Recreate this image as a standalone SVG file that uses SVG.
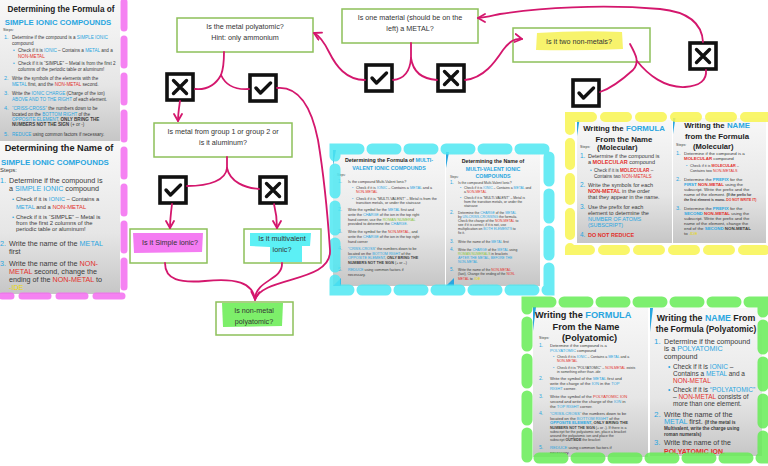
<svg xmlns="http://www.w3.org/2000/svg" width="768" height="466" viewBox="0 0 768 466">
<defs>
<linearGradient id="sg" x1="0" y1="0" x2="0" y2="1">
<stop offset="0" stop-color="#f8f8f8"/><stop offset="0.6" stop-color="#e6e6e6"/><stop offset="1" stop-color="#c6c6c6"/>
</linearGradient>
<marker id="ah" markerUnits="userSpaceOnUse" markerWidth="12" markerHeight="12" refX="8" refY="5" orient="auto">
<path d="M1,1 L8,5 L1,9" fill="none" stroke="#d4176d" stroke-width="1.8" stroke-linecap="round" stroke-linejoin="round"/>
</marker>
<g id="chk"><rect x="-13" y="-13" width="26" height="26" fill="#fff" stroke="#111" stroke-width="3.6"/><path d="M-7,0 L-2.5,5 L7.5,-5" fill="none" stroke="#111" stroke-width="3.4" stroke-linecap="round" stroke-linejoin="round"/></g>
<g id="crs"><rect x="-13" y="-13" width="26" height="26" fill="#fff" stroke="#111" stroke-width="3.6"/><path d="M-6.5,-6.5 L6.5,6.5 M6.5,-6.5 L-6.5,6.5" fill="none" stroke="#111" stroke-width="3.4" stroke-linecap="round"/></g>
</defs>
<style>
.t{font-family:"Liberation Sans",Arial,sans-serif;fill:#3a3a3a}
.h{font-weight:bold;fill:#222}
.b{fill:#2aa6e0}
.r{fill:#e2302b}
.y{fill:#e8d800}
.g{fill:#86c441}
.k{font-weight:bold}
.q{font-family:"Liberation Sans",Arial,sans-serif;font-size:7.2px;fill:#333;text-anchor:middle}
.box{fill:#fff;stroke:#8dc05a;stroke-width:1.5}
.c{fill:none;stroke:#d4176d;stroke-width:1.8;stroke-linecap:round}
.sh{fill:url(#sg)}
.acc{fill:#2aa6e0}
.dash{fill:none;stroke-linecap:round;opacity:0.85}
</style>
<rect width="768" height="466" fill="#fff"/>

<!-- Left pink panel -->
<g id="panel-simple-ionic">
<rect class="sh" x="0" y="0" width="120" height="141"/>
<rect class="sh" x="0" y="141" width="120" height="153"/>
<text class="t h" x="61" y="12" font-size="8.2" text-anchor="middle">Determining the Formula of</text>
<text class="t h b" x="58" y="24.5" font-size="7.8" text-anchor="middle">SIMPLE IONIC COMPOUNDS</text>
<g class="t" font-size="4.6">
<text x="3" y="31" font-size="3.8">Steps:</text>
<text x="4" y="39" class="b" font-size="5.5">1.</text>
<text x="12" y="39">Determine if the compound is a <tspan class="b">SIMPLE IONIC</tspan></text>
<text x="12" y="45">compound</text>
<text x="13" y="52" class="b">•</text><text x="18" y="52">Check if it is <tspan class="b">IONIC</tspan> – Contains a <tspan class="b">METAL</tspan> and a</text>
<text x="18" y="58" class="r">NON-METAL</text>
<text x="13" y="65" class="b">•</text><text x="18" y="65">Check if it is “SIMPLE” – Metal is from the first 2</text>
<text x="18" y="71">columns of the periodic table or aluminum!</text>
<text x="4" y="80" class="b" font-size="5.5">2.</text>
<text x="12" y="80">Write the symbols of the elements with the</text>
<text x="12" y="86"><tspan class="b">METAL</tspan> first, and the <tspan class="r">NON-METAL</tspan> second.</text>
<text x="4" y="95" class="b" font-size="5.5">3.</text>
<text x="12" y="95">Write the <tspan class="b">IONIC CHARGE</tspan> (Charge of the ion)</text>
<text x="12" y="101"><tspan class="b">ABOVE AND TO THE RIGHT</tspan> of each element.</text>
<text x="4" y="110" class="b" font-size="5.5">4.</text>
<text x="12" y="110"><tspan class="b">“CRISS-CROSS”</tspan> the numbers down to be</text>
<text x="12" y="116">located on the <tspan class="b">BOTTOM RIGHT</tspan> of the</text>
<text x="12" y="121"><tspan class="b">OPPOSITE ELEMENT</tspan>, <tspan class="k">ONLY BRING THE</tspan></text>
<text x="12" y="126"><tspan class="k">NUMBERS NOT THE SIGN</tspan> (+ or -)</text>
<text x="4" y="136" class="b" font-size="5.5">5.</text>
<text x="12" y="136"><tspan class="b">REDUCE</tspan> using common factors if necessary.</text>
</g>
<text class="t h" x="59" y="151" font-size="9.2" text-anchor="middle">Determining the Name of</text>
<text class="t h b" x="1" y="165" font-size="7.9">SIMPLE IONIC COMPOUNDS</text>
<g class="t" font-size="7.2">
<text x="0" y="172" font-size="6">Steps:</text>
<text x="0" y="183" class="b">1.</text>
<text x="9" y="183">Determine if the compound is</text>
<text x="9" y="191">a <tspan class="b">SIMPLE IONIC</tspan> compound</text>
<g font-size="5.8">
<text x="12" y="201" class="b">•</text><text x="16" y="201">Check if it is <tspan class="b">IONIC</tspan> – Contains a</text>
<text x="16" y="209"><tspan class="b">METAL</tspan> and a <tspan class="r">NON-METAL</tspan></text>
<text x="12" y="219" class="b">•</text><text x="16" y="219">Check if it is “SIMPLE” – Metal is</text>
<text x="16" y="225">from the first 2 columns of the</text>
<text x="16" y="231">periodic table or aluminum!</text>
</g>
<text x="0" y="246" class="b">2.</text>
<text x="9" y="246">Write the name of the <tspan class="b">METAL</tspan></text>
<text x="9" y="254">first</text>
<text x="0" y="266" class="b">3.</text>
<text x="9" y="266">Write the name of the <tspan class="r">NON-</tspan></text>
<text x="9" y="274"><tspan class="r">METAL</tspan> second, change the</text>
<text x="9" y="282">ending of the <tspan class="r">NON-METAL</tspan> to</text>
<text x="9" y="290" class="y">-IDE</text>
</g>
<path class="dash" d="M124,2 V296 H2" stroke="#f36cf0" stroke-width="7" stroke-dasharray="26 11"/>
</g>

<!-- Cyan multivalent panel -->
<g id="panel-multivalent">
<rect class="sh" x="333" y="150" width="112" height="136"/>
<rect class="sh" x="446" y="152" width="94" height="134"/>
<path class="acc" d="M333,150 h3 l-3,16 z M446,152 h3 l-3,16 z M333,286 l8,-8 v8 z M446,286 l8,-8 v8 z"/>
<g class="t">
<text class="h" x="389" y="162" font-size="5.3" text-anchor="middle">Determining the Formula of <tspan class="b">MULTI-</tspan></text>
<text class="h b" x="389" y="169.5" font-size="5.3" text-anchor="middle">VALENT IONIC COMPOUNDS</text>
<text x="337" y="176" font-size="3">Steps:</text>
<g font-size="3.7">
<text x="338" y="183" class="b" font-size="4.8">1.</text><text x="348" y="183">Is the compound Multi-Valent Ionic?</text>
<text x="352" y="189" class="b">•</text><text x="356" y="189">Check if it is <tspan class="b">IONIC</tspan> – Contains a <tspan class="b">METAL</tspan> and a</text>
<text x="356" y="193" class="r">NON-METAL</text>
<text x="352" y="200" class="b">•</text><text x="356" y="200">Check if it is “MULTI-VALENT” – Metal is from the</text>
<text x="356" y="204">transition metals, or under the staircase</text>
<text x="338" y="211" class="b" font-size="4.8">2.</text><text x="348" y="211">Write the symbol for the <tspan class="b">METAL</tspan> first and</text>
<text x="348" y="216">write the <tspan class="b">CHARGE</tspan> of the ion in the top right</text>
<text x="348" y="220.5">hand corner, use the <tspan class="g">ROMAN NUMERAL</tspan></text>
<text x="348" y="225">provided to determine the <tspan class="b">CHARGE.</tspan></text>
<text x="338" y="233" class="b" font-size="4.8">3.</text><text x="348" y="233">Write the symbol for the <tspan class="r">NON-METAL</tspan>, and</text>
<text x="348" y="238">write the <tspan class="b">CHARGE</tspan> of the ion in the top right</text>
<text x="348" y="243">hand corner</text>
<text x="338" y="250" class="b" font-size="4.8">4.</text><text x="348" y="250"><tspan class="b">“CRISS-CROSS”</tspan> the numbers down to be</text>
<text x="348" y="254.5">located on the <tspan class="b">BOTTOM RIGHT</tspan> of the</text>
<text x="348" y="259"><tspan class="b">OPPOSITE ELEMENT</tspan>, <tspan class="k">ONLY BRING THE</tspan></text>
<text x="348" y="264"><tspan class="k">NUMBERS NOT THE SIGN</tspan> (+ or –)</text>
<text x="338" y="271" class="b" font-size="4.8">5.</text><text x="348" y="271"><tspan class="b">REDUCE</tspan> using common factors if</text>
<text x="348" y="276">necessary.</text>
</g>
<text class="h" x="493" y="163" font-size="5.3" text-anchor="middle">Determining the Name of</text>
<text class="h b" x="493" y="170.5" font-size="5.3" text-anchor="middle">MULTI-VALENT IONIC</text>
<text class="h b" x="493" y="177.5" font-size="5.3" text-anchor="middle">COMPOUNDS</text>
<text x="450" y="178" font-size="3">Steps:</text>
<g font-size="3.4">
<text x="450" y="183.5" class="b" font-size="4.6">1.</text><text x="458" y="183.5">Is the compound Multi-Valent Ionic?</text>
<text x="460" y="189" class="b">•</text><text x="464" y="189">Check if it is <tspan class="b">IONIC</tspan> – Contains a <tspan class="b">METAL</tspan> and</text>
<text x="464" y="193">a <tspan class="r">NON-METAL</tspan></text>
<text x="460" y="199" class="b">•</text><text x="464" y="199">Check if it is “MULTI-VALENT” – Metal is</text>
<text x="464" y="203">from the transition metals, or under the</text>
<text x="464" y="207">staircase</text>
<text x="450" y="214" class="b" font-size="4.6">2.</text><text x="458" y="214">Determine the <tspan class="b">CHARGE</tspan> of the <tspan class="b">METAL</tspan></text>
<text x="458" y="218">by <tspan class="b">UN-CRISS-CROSSING</tspan> the formula.</text>
<text x="458" y="222">Check the charge of the <tspan class="r">NON-METAL</tspan> to</text>
<text x="458" y="226">see if it is correct, if it is not, use</text>
<text x="458" y="230">multiplication on <tspan class="b">BOTH ELEMENTS</tspan> to</text>
<text x="458" y="234">fix it.</text>
<text x="450" y="243" class="b" font-size="4.6">3.</text><text x="458" y="243">Write the name of the <tspan class="b">METAL</tspan> first</text>
<text x="450" y="251" class="b" font-size="4.6">4.</text><text x="458" y="251">Write the <tspan class="b">CHARGE</tspan> of the <tspan class="b">METAL</tspan> using</text>
<text x="458" y="255"><tspan class="g">ROMAN NUMERALS</tspan> in brackets</text>
<text x="458" y="259" class="b">AFTER THE METAL, BEFORE THE</text>
<text x="458" y="263" class="b">NON-METAL</text>
<text x="450" y="271" class="b" font-size="4.6">5.</text><text x="458" y="271">Write the name of the <tspan class="r">NON-METAL</tspan></text>
<text x="458" y="275">(last), Change the ending of the <tspan class="r">NON-</tspan></text>
<text x="458" y="279.5"><tspan class="r">METAL</tspan> to <tspan class="y">-IDE</tspan></text>
</g>
</g>
<rect class="dash" x="335" y="149" width="214" height="141" stroke="#4fe8f2" stroke-width="11" stroke-dasharray="24 13"/>
</g>

<!-- Yellow molecular panel -->
<g id="panel-molecular">
<rect class="sh" x="577" y="120" width="95" height="123"/>
<rect class="sh" x="673" y="118" width="93" height="125"/>
<path class="acc" d="M577,120 h2.5 l-2.5,16 z M673,118 h2.5 l-2.5,16 z"/>
<g class="t">
<text class="h" x="624" y="131" font-size="7.8" text-anchor="middle">Writing the <tspan class="b">FORMULA</tspan></text>
<text class="h" x="624" y="141.5" font-size="7.8" text-anchor="middle">From the Name</text>
<text x="580" y="148" font-size="3.6">Steps:</text>
<text class="h" x="597" y="149.5" font-size="7.6">(Molecular)</text>
<g font-size="5.5">
<text x="580" y="158" class="b" font-size="6.5">1.</text><text x="588" y="158">Determine if the compound is</text>
<text x="588" y="164">a <tspan class="r k">MOLECULAR</tspan> compound</text>
<text x="590" y="172" class="b" font-size="4.6">•</text><text x="594" y="172" font-size="4.6">Check if it is <tspan class="r k">MOLECULAR</tspan> –</text>
<text x="594" y="177.5" font-size="4.6">Contains two <tspan class="r">NON-METALS</tspan></text>
<text x="580" y="187" class="b" font-size="6.5">2.</text><text x="588" y="187">Write the symbols for each</text>
<text x="588" y="193"><tspan class="r k">NON-METAL</tspan> in the order</text>
<text x="588" y="199">that they appear in the name.</text>
<text x="580" y="209" class="b" font-size="6.5">3.</text><text x="588" y="209">Use the prefix for each</text>
<text x="588" y="215">element to determine the</text>
<text x="588" y="221" class="b">NUMBER OF ATOMS</text>
<text x="588" y="227" class="b">(SUBSCRIPT)</text>
<text x="580" y="237" class="b" font-size="6.5">4.</text><text x="588" y="237" class="r k">DO NOT REDUCE</text>
</g>
<text class="h" x="717" y="127.5" font-size="7.8" text-anchor="middle">Writing the <tspan class="b">NAME</tspan></text>
<text class="h" x="717" y="138.5" font-size="7.8" text-anchor="middle">from the Formula</text>
<text x="676" y="146" font-size="3.6">Steps:</text>
<text class="h" x="693" y="148.5" font-size="7.6">(Molecular)</text>
<g font-size="4.4">
<text x="676" y="155" class="b" font-size="5.5">1.</text><text x="684" y="155">Determine if the compound is a</text>
<text x="684" y="160"><tspan class="r k">MOLECULAR</tspan> compound</text>
<text x="686" y="167" class="b" font-size="3.8">•</text><text x="690" y="167" font-size="3.8">Check if it is <tspan class="r k">MOLECULAR</tspan> –</text>
<text x="690" y="172" font-size="3.8">Contains two <tspan class="r">NON-METALS</tspan></text>
<text x="676" y="181" class="b" font-size="5.5">2.</text><text x="684" y="181">Determine the <tspan class="b k">PREFIX</tspan> for the</text>
<text x="684" y="186"><tspan class="b k">FIRST</tspan> <tspan class="r k">NON-METAL</tspan> using the</text>
<text x="684" y="191">subscript. Write the prefix and the</text>
<text x="684" y="196">name of the element. <tspan class="k" font-size="3.4">(If the prefix for</tspan></text>
<text x="684" y="201" class="k" font-size="3.4">the first element is mono- <tspan class="r">DO NOT WRITE IT)</tspan></text>
<text x="676" y="209.5" class="b" font-size="5.5">3.</text><text x="684" y="209.5">Determine the <tspan class="b k">PREFIX</tspan> for the</text>
<text x="684" y="214.5"><tspan class="b k">SECOND</tspan> <tspan class="r k">NON-METAL</tspan> using the</text>
<text x="684" y="219.5">subscript. Write the prefix and the</text>
<text x="684" y="224.5">name of the element, change the</text>
<text x="684" y="229.5">end of the <tspan class="b k">SECOND</tspan> <tspan class="k">NON-METAL</tspan></text>
<text x="684" y="234.5">to <tspan class="y">-IDE</tspan></text>
</g>
</g>
<rect class="dash" x="570" y="117" width="206" height="133" stroke="#f8f550" stroke-width="10" stroke-dasharray="22 13"/>
</g>

<!-- Green polyatomic panel -->
<g id="panel-polyatomic">
<rect class="sh" x="533" y="307" width="115" height="150"/>
<rect class="sh" x="650" y="308" width="112" height="148"/>
<path class="acc" d="M533,307 h3 l-3,24 z M650,308 h3 l-3,24 z"/>
<g class="t">
<text class="h" x="535" y="317.5" font-size="9.2">Writing the <tspan class="b">FORMULA</tspan></text>
<text class="h" x="586" y="329.5" font-size="9.2" text-anchor="middle">From the Name</text>
<text x="539" y="339" font-size="3.6">Steps:</text>
<text class="h" x="562" y="341" font-size="9.2">(Polyatomic)</text>
<g font-size="4.1">
<text x="539" y="347" class="b" font-size="5">1.</text><text x="550" y="347">Determine if the compound is a</text>
<text x="550" y="352" class="b">POLYATOMIC <tspan fill="#3a3a3a">compound</tspan></text>
<g font-size="3.5">
<text x="553" y="358" class="b">•</text><text x="557" y="358">Check if it is <tspan class="b">IONIC</tspan> – Contains a <tspan class="b">METAL</tspan> and a</text>
<text x="557" y="362" class="r">NON-METAL</text>
<text x="553" y="369" class="b">•</text><text x="557" y="369">Check if it is “POLYATOMIC” – <tspan class="r">NON-METAL</tspan> exists</text>
<text x="557" y="373">in something other than -ide</text>
</g>
<text x="539" y="380" class="b" font-size="5">2.</text><text x="550" y="380">Write the symbol of the <tspan class="b">METAL</tspan> first and</text>
<text x="550" y="385">write the charge of the <tspan class="b">ION</tspan> in the <tspan class="b">TOP</tspan></text>
<text x="550" y="390" class="b">RIGHT <tspan fill="#3a3a3a">corner.</tspan></text>
<text x="539" y="398" class="b" font-size="5">3.</text><text x="550" y="398">Write the symbol of the <tspan class="r">POLYATOMIC ION</tspan></text>
<text x="550" y="403">second and write the charge of the <tspan class="b">ION</tspan> in</text>
<text x="550" y="408">the <tspan class="b">TOP RIGHT</tspan> corner.</text>
<text x="539" y="415" class="b" font-size="5">4.</text><text x="550" y="415"><tspan class="b">“CRISS-CROSS”</tspan> the numbers down to be</text>
<text x="550" y="419.5">located on the <tspan class="b">BOTTOM RIGHT</tspan> of the</text>
<text x="550" y="424" class="k"><tspan class="b">OPPOSITE ELEMENT</tspan>, ONLY BRING THE</text>
<g font-size="3.6">
<text x="550" y="428.5"><tspan class="k">NUMBERS NOT THE SIGN</tspan> (+ or -). If there is a</text>
<text x="550" y="432.5">subscript for the polyatomic ion, place a bracket</text>
<text x="550" y="436.5">around the polyatomic ion and place the</text>
<text x="550" y="440.5">subscript <tspan class="k">OUTSIDE</tspan> the bracket</text>
</g>
<text x="539" y="449" class="b" font-size="5">5.</text><text x="550" y="449"><tspan class="b">REDUCE</tspan> using common factors if</text>
<text x="550" y="454">necessary.</text>
</g>
<text class="h" x="706" y="320.5" font-size="8.8" text-anchor="middle">Writing the <tspan class="b">NAME</tspan> From</text>
<text class="h" x="706" y="332" font-size="8.4" text-anchor="middle">the Formula (Polyatomic)</text>
<g font-size="7.2">
<text x="654" y="343.5" class="b" font-size="8">1.</text><text x="664" y="343.5">Determine if the compound</text>
<text x="664" y="351">is a <tspan class="b">POLYATOMIC</tspan></text>
<text x="664" y="358.5">compound</text>
<g font-size="6.5">
<text x="668" y="368.5" class="b">•</text><text x="673" y="368.5">Check if it is <tspan class="b">IONIC</tspan> –</text>
<text x="673" y="375.5">Contains a <tspan class="b">METAL</tspan> and a</text>
<text x="673" y="382.5" class="r">NON-METAL</text>
<text x="668" y="391.5" class="b">•</text><text x="673" y="391.5">Check if it is <tspan class="b">“POLYATOMIC”</tspan></text>
<text x="673" y="398.5">– <tspan class="r">NON-METAL</tspan> consists of</text>
<text x="673" y="405.5">more than one element.</text>
</g>
<text x="654" y="416.5" class="b" font-size="8">2.</text><text x="664" y="416.5">Write the name of the</text>
<text x="664" y="424"><tspan class="b">METAL</tspan> first. <tspan class="k" font-size="4.6">(If the metal is</tspan></text>
<text x="664" y="430" class="k" font-size="4.6">Multivalent, write the charge using</text>
<text x="664" y="435.5" class="k" font-size="4.6">roman numerals)</text>
<text x="654" y="444.5" class="b" font-size="7.6">3.</text><text x="664" y="444.5" font-size="7">Write the name of the</text>
<text x="664" y="454" class="r k" font-size="7">POLYATOMIC ION.</text>
</g>
</g>
<rect class="dash" x="527" y="302" width="236" height="156" stroke="#66ec56" stroke-width="11" stroke-dasharray="24 13"/>
</g>

<!-- Flowchart question nodes -->
<g id="q-metal-polyatomic">
<rect class="box" x="177" y="18" width="136" height="34"/>
<text class="q" x="245" y="29">Is the metal polyatomic?</text>
<text class="q" x="245" y="40">Hint: only ammonium</text>
</g>
<g id="q-one-metal">
<rect class="box" x="342" y="9" width="136" height="34"/>
<text class="q" x="410" y="20">Is one material (should be on the</text>
<text class="q" x="410" y="31">left) a METAL?</text>
</g>
<g id="q-two-nonmetals">
<rect class="box" x="513" y="28" width="137" height="34"/>
<path d="M537,33 Q580,30 622,32 L623,49 Q580,51 536,50 Z" fill="#f6f25c" opacity="0.9"/>
<text class="q" x="579" y="44">Is it two non-metals?</text>
</g>
<g id="q-group12">
<rect class="box" x="154" y="123" width="138" height="34"/>
<text class="q" x="223" y="134">Is metal from group 1 or group 2 or</text>
<text class="q" x="223" y="145">is it aluminum?</text>
</g>
<g id="q-simple-ionic">
<rect class="box" x="130" y="229" width="77" height="34"/>
<path d="M133,233 L203,233 L202,252 L134,253 Z" fill="#f47cf2"/>
<text class="q" x="170" y="245">Is it Simple ionic?</text>
</g>
<g id="q-multivalent">
<rect class="box" x="244" y="229" width="77" height="34"/>
<path d="M250,233 L311,233 L310,246 L302,246 L302,262 L270,262 L270,247 L250,246 Z" fill="#5cf0f5"/>
<text class="q" x="282" y="240.5">Is it multivalent</text>
<text class="q" x="282" y="252">ionic?</text>
</g>
<g id="q-nonmetal-polyatomic">
<rect class="box" x="216" y="302" width="77" height="33"/>
<path d="M222,303 L283,303 L282,326 L223,327 Z" fill="#7def6a"/>
<text class="q" x="254" y="312.5">Is non-metal</text>
<text class="q" x="254" y="324">polyatomic?</text>
</g>

<!-- Yes / No markers -->
<g id="no-polyatomic"><use href="#crs" x="180" y="87"/></g>
<g id="yes-polyatomic"><use href="#chk" x="263" y="88"/></g>
<g id="yes-metal"><use href="#chk" x="379" y="78"/></g>
<g id="no-metal"><use href="#crs" x="451" y="78"/></g>
<g id="yes-two-nonmetals"><use href="#chk" x="586" y="93"/></g>
<g id="no-two-nonmetals"><use href="#crs" x="703" y="56"/></g>
<g id="yes-group12"><use href="#chk" x="173" y="190"/></g>
<g id="no-group12"><use href="#crs" x="273" y="190"/></g>

<!-- Connectors -->
<g id="connectors">
<path class="c" d="M224,52 C224,64 223,70 221,75 C215,86 206,90 195,89"/>
<path class="c" d="M221,75 C226,86 236,90 249,89"/>
<path class="c" d="M180,101 C179,108 178,114 178,121" marker-end="url(#ah)"/>
<path class="c" d="M277,88 C300,86 312,110 318,140 C323,170 328,220 330,250 C332,283 262,276 255,300"/>
<path class="c" d="M165,263 C165,280 180,283 205,281 C235,278 253,282 255,300"/>
<path class="c" d="M282,263 C283,280 256,280 255,299" marker-end="url(#ah)"/>
<path class="c" d="M227,157 L227,168 C226,180 210,186 187,186"/>
<path class="c" d="M227,168 C230,182 245,188 259,189"/>
<path class="c" d="M172,204 C171,212 170,220 170,228" marker-end="url(#ah)"/>
<path class="c" d="M274,204 C276,212 277,220 277,228" marker-end="url(#ah)"/>
<path class="c" d="M411,43 L411,58 C410,72 404,79 393,80"/>
<path class="c" d="M411,58 C413,72 422,79 437,80"/>
<path class="c" d="M365,80 C346,80 336,66 329,52 C324,42 320,36 314,33" marker-end="url(#ah)"/>
<path class="c" d="M465,80 C484,78 495,62 503,50 C510,41 515,38 522,39" marker-end="url(#ah)"/>
<path class="c" d="M630,44 C636,55 640,62 633,70 C622,80 612,88 600,92"/>
<path class="c" d="M637,61 C648,75 665,88 685,87 C700,86 707,80 706,70"/>
<path class="c" d="M703,42 C702,25 690,12 660,9 C600,4 540,8 500,14 C491,16 484,18 478,18" marker-end="url(#ah)"/>
</g>
</svg>
